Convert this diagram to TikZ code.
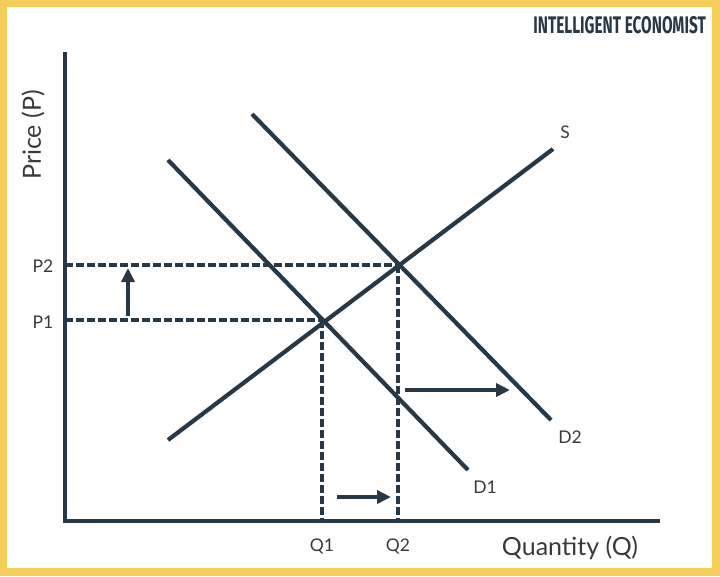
\documentclass[tikz,border=0pt]{standalone}
\usepackage{fontspec}
\setmainfont{Lato}
\newfontfamily\titlefont{Fira Sans}
\usetikzlibrary{arrows.meta}
\definecolor{ink}{HTML}{283845}
\definecolor{frame}{HTML}{F5CE5A}
\definecolor{txt}{HTML}{3A3A3A}
\tikzset{
  curve/.style={draw=ink, line width=4.2pt},
  axisline/.style={draw=ink, line width=4.4pt},
  guide/.style={draw=ink, line width=3.4pt, dash pattern=on 8pt off 3pt},
  shiftarrow/.style={draw=ink, line width=4pt, -{Triangle[length=14pt,width=13pt]}},
  lbl/.style={text=txt, font=\fontsize{17.5}{20}\selectfont, inner sep=0pt},
  axlbl/.style={text=txt, font=\fontsize{25}{28}\selectfont, inner sep=0pt}
}
\begin{document}
\begin{tikzpicture}[x=1pt,y=-1pt]
\useasboundingbox (0,0) rectangle (720,576);
\fill[frame] (0,0) rectangle (720,576);
\fill[white] (7,7) rectangle (712,568);
% title
\node[anchor=east, inner sep=0pt, text=ink] (title) at (706,25)
  {\titlefont\bfseries\scalebox{0.64}[1]{\fontsize{24}{28}\selectfont INTELLIGENT ECONOMIST}};
% axes
\coordinate (O) at (65,521);
\coordinate (ytop) at (65,52);
\coordinate (xend) at (660,521);
\draw[axisline] (ytop) -- (O) -- (xend);
% key points
\coordinate (E1) at (322,320);
\coordinate (E2) at (398,265);
\coordinate (P1a) at (65,320);
\coordinate (P2a) at (65,265);
\coordinate (Q1a) at (322,521);
\coordinate (Q2a) at (398,521);
% guides
\draw[guide] (P1a) -- (E1);
\draw[guide] (P2a) -- (E2);
\draw[guide] (E1) -- (Q1a);
\draw[guide] (E2) -- (Q2a);
% curves
\coordinate (S0) at (168,440);
\coordinate (S1) at (553,149);
\coordinate (D10) at (168,160);
\coordinate (D11) at (468,470);
\coordinate (D20) at (252,114);
\coordinate (D21) at (551,420);
\draw[curve] (S0) -- (S1);
\draw[curve] (D10) -- (D11);
\draw[curve] (D20) -- (D21);
% shift arrows
\coordinate (au0) at (128,316);
\coordinate (au1) at (128,268);
\draw[shiftarrow] (au0) -- (au1);
\coordinate (ar0) at (405,390);
\coordinate (ar1) at (510,390);
\draw[shiftarrow] (ar0) -- (ar1);
\coordinate (ab0) at (337,497);
\coordinate (ab1) at (391,497);
\draw[shiftarrow] (ab0) -- (ab1);
% labels
\node[lbl] (lP2) at (43,266) {P2};
\node[lbl] (lP1) at (43,322) {P1};
\node[lbl] (lQ1) at (322,546) {Q1};
\node[lbl] (lQ2) at (398,546) {Q2};
\node[lbl] (lS) at (565,132) {S};
\node[lbl] (lD2) at (570,437) {D2};
\node[lbl] (lD1) at (485,487) {D1};
\node[axlbl, rotate=90] (lP) at (33,135) {Price (P)};
\node[axlbl] (lQ) at (570,548) {Quantity (Q)};
\end{tikzpicture}
\end{document}
